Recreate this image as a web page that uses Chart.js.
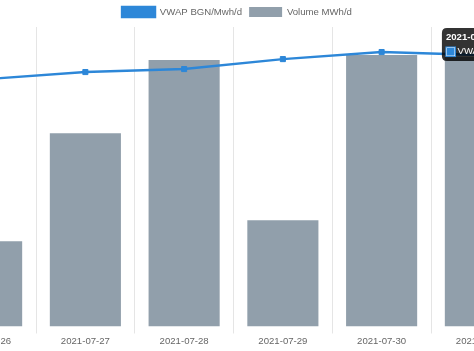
<!DOCTYPE html>
<html>
<head>
<meta charset="utf-8">
<script src="https://cdn.jsdelivr.net/npm/chart.js@4/dist/chart.umd.min.js"></script>
<style>
  html, body { margin: 0; padding: 0; background: #fff; overflow: hidden; width: 474px; height: 351px; }
  #wrap { position: absolute; left: -170px; top: 0; width: 814px; height: 351px; }
</style>
</head>
<body>
<div id="wrap"><canvas id="c" width="814" height="351"></canvas></div>
<script>
const categories = ['2021-07-26', '2021-07-27', '2021-07-28', '2021-07-29', '2021-07-30', '2021-07-31', '2021-08-01'];
const vwapLabel = 'VWAP BGN/Mwh/d';
const volumeLabel = 'Volume MWh/d';
const vwap = [206.5, 212.4, 214.9, 223.2, 229.1, 226.6, 235.4];
const volume = [853, 1936, 2669, 1064, 2719, 2699, 2600];

const blue = '#2d87d8';
const grey = '#919fab';
const fontFamily = '"Liberation Sans", Arial, sans-serif';
Chart.defaults.font.family = fontFamily;
Chart.defaults.font.size = 9.6;
Chart.defaults.color = '#666';

const chart = new Chart(document.getElementById('c'), {
  data: {
    labels: categories,
    datasets: [
      {
        type: 'line',
        label: vwapLabel,
        data: vwap,
        yAxisID: 'yPrice',
        borderColor: blue,
        backgroundColor: blue,
        borderWidth: 2.4,
        tension: 0,
        fill: false,
        pointStyle: 'rect',
        pointRadius: 3.6,
        pointBackgroundColor: blue,
        pointBorderColor: blue,
        pointBorderWidth: 1
      },
      {
        type: 'bar',
        label: volumeLabel,
        data: volume,
        yAxisID: 'yVol',
        backgroundColor: grey,
        borderColor: grey,
        borderWidth: 0
      }
    ]
  },
  options: {
    responsive: false,
    devicePixelRatio: 1,
    animation: false,
    layout: { padding: { top: 0, bottom: 2, left: 0, right: 0 } },
    plugins: {
      legend: {
        display: true,
        position: 'top',
        labels: { boxWidth: 33, boxHeight: 10, padding: 7, color: '#666', font: { size: 9.6 } }
      },
      tooltip: {
        enabled: true,
        backgroundColor: 'rgba(0,0,0,0.8)',
        titleFont: { size: 9.6, weight: 'bold', lineHeight: 1.1 },
        bodyFont: { size: 9.6, lineHeight: 1.1 },
        padding: 4,
        cornerRadius: 5,
        caretSize: 4,
        caretPadding: 2,
        titleMarginBottom: 4
      }
    },
    scales: {
      x: {
        grid: { display: true, color: 'rgba(0,0,0,0.1)', tickLength: 7, offset: true },
        border: { display: false },
        ticks: { color: '#666', padding: 2, maxRotation: 0, font: { size: 9.6 } }
      },
      yVol: {
        display: true,
        position: 'left',
        min: 0,
        max: 3000,
        grid: { display: false },
        border: { display: false },
        ticks: { display: false },
        afterFit: (s) => { s.width = 107.25; }
      },
      yPrice: {
        display: true,
        position: 'right',
        min: 0,
        max: 250,
        grid: { display: false },
        border: { display: false },
        ticks: { display: false },
        afterFit: (s) => { s.width = 15.5; }
      }
    }
  }
});

chart.tooltip.setActiveElements([{ datasetIndex: 0, index: 6 }], { x: 0, y: 0 });
chart.update();
</script>
</body>
</html>
